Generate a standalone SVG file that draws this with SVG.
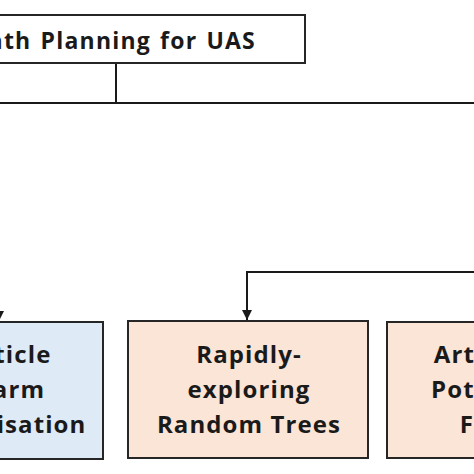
<svg xmlns="http://www.w3.org/2000/svg" width="474" height="474" viewBox="0 0 474 474">
  <style>
    .box { stroke: #262626; stroke-width: 2; }
    .root { fill: #ffffff; }
    .blue { fill: #deebf7; }
    .peach { fill: #fbe5d6; }
    .t { font-family: "Open Sans", "Noto Sans", "Liberation Sans", sans-serif; font-weight: bold; fill: #1a1a1a; }
    .title { font-size: 23px; letter-spacing: 1.2px; word-spacing: 2px; }
    .lbl { font-size: 24px; letter-spacing: 1.1px; text-anchor: middle; }
    .conn { stroke: #1a1a1a; stroke-width: 2; fill: none; }
  </style>
  <defs>
    <marker id="arr" viewBox="0 0 10 10" refX="10" refY="5" markerWidth="5" markerHeight="5" orient="auto" markerUnits="strokeWidth">
      <path d="M0,0 L10,5 L0,10 Z" fill="#1a1a1a"/>
    </marker>
  </defs>
  <rect width="474" height="474" fill="#ffffff"/>

  <g id="connectors">
    <line class="conn" x1="116" y1="63" x2="116" y2="103"/>
    <line class="conn" x1="-10" y1="103" x2="484" y2="103"/>
    <polyline class="conn" points="484,272 247,272 247,320" marker-end="url(#arr)"/>
    <line class="conn" x1="-1" y1="290" x2="-1" y2="321" marker-end="url(#arr)"/>
  </g>

  <g id="node-root">
    <rect class="box root" x="-120" y="15" width="425" height="48"/>
    <text class="t title" x="256" y="49" text-anchor="end">Path Planning for UAS</text>
  </g>

  <g id="node-pso">
    <rect class="box blue" x="-103" y="322" width="206" height="137"/>
    <text class="t lbl" x="1" y="363">Particle</text>
    <text class="t lbl" x="1" y="398">Swarm</text>
    <text class="t lbl" x="1" y="433">Optimisation</text>
  </g>

  <g id="node-rrt">
    <rect class="box peach" x="128" y="321" width="240" height="137"/>
    <text class="t lbl" x="249" y="363">Rapidly-</text>
    <text class="t lbl" x="249" y="398">exploring</text>
    <text class="t lbl" x="249" y="433">Random Trees</text>
  </g>

  <g id="node-apf">
    <rect class="box peach" x="387" y="322" width="208" height="136"/>
    <text class="t lbl" x="491" y="363">Artificial</text>
    <text class="t lbl" x="491" y="398">Potential</text>
    <text class="t lbl" x="491" y="433">Field</text>
  </g>
</svg>
